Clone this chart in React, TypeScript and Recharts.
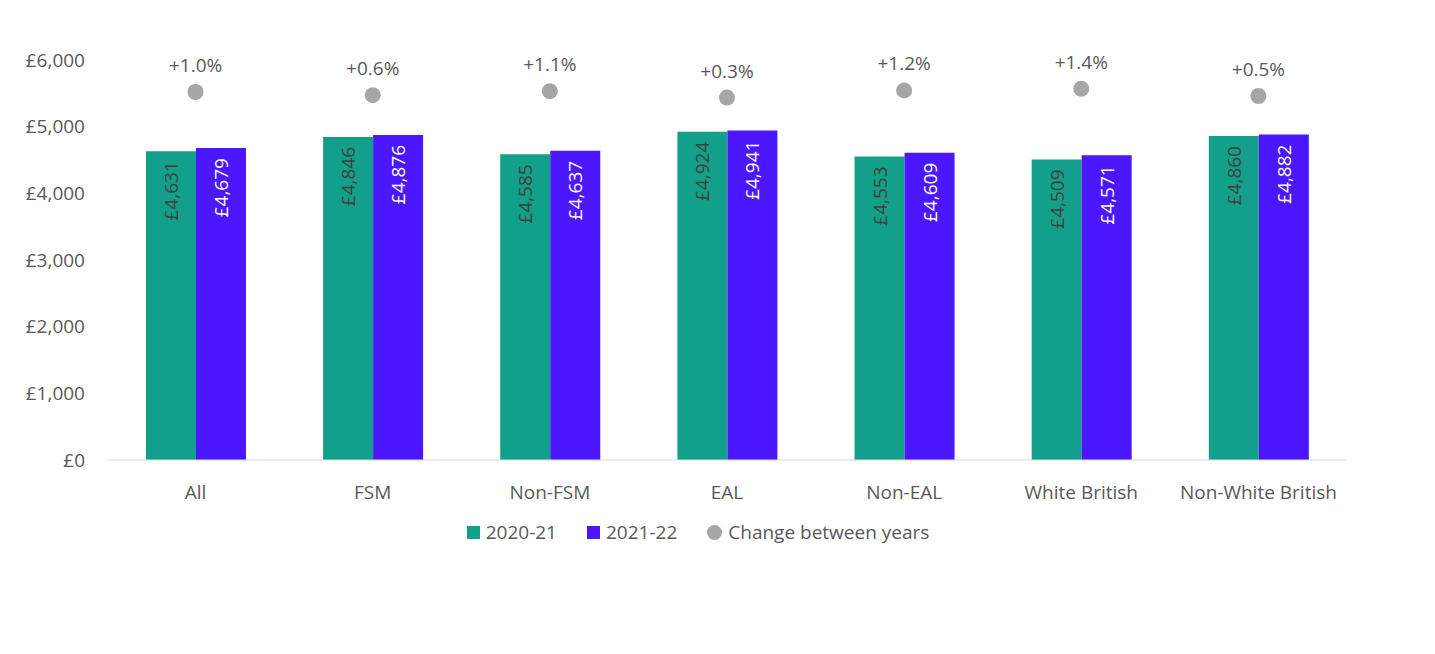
import React from 'react';
import { ComposedChart, Bar, Line, XAxis, YAxis, LabelList } from 'recharts';

const categories = ['All', 'FSM', 'Non-FSM', 'EAL', 'Non-EAL', 'White British', 'Non-White British'];
const spend2021 = [4631, 4846, 4585, 4924, 4553, 4509, 4860];
const spend2122 = [4679, 4876, 4637, 4941, 4609, 4571, 4882];
const changePct = [1.0, 0.6, 1.1, 0.3, 1.2, 1.4, 0.5];
const yTicks = [0, 1000, 2000, 3000, 4000, 5000, 6000];

const data = categories.map((name, i) => ({
  name,
  y2021: spend2021[i],
  y2122: spend2122[i],
  change: changePct[i],
}));

const FONT = '"Open Sans", sans-serif';
const TEXT = '#595959';
const GREEN = '#12A08B';
const PURPLE = '#4A17FF';
const GREY = '#A6A6A6';
const FS = 19;

const money = (v: number) => `£${v.toLocaleString('en-GB')}`;

const barLabel = (color: string) => (props: any) => {
  const { x, y, width, value } = props;
  const cx = x + width / 2;
  const ty = y + 10;
  return (
    <text
      x={cx}
      y={ty}
      transform={`rotate(-90 ${cx} ${ty})`}
      textAnchor="end"
      dominantBaseline="central"
      fill={color}
      fontSize={FS}
      fontFamily={FONT}
    >
      {money(value)}
    </text>
  );
};

const legendItems = [
  { label: '2020-21', color: GREEN, shape: 'square' },
  { label: '2021-22', color: PURPLE, shape: 'square' },
  { label: 'Change between years', color: GREY, shape: 'circle' },
];

const ChartLegend = () => (
  <div style={{ display: 'flex', justifyContent: 'center', gap: 30, fontFamily: FONT, fontSize: FS, color: TEXT }}>
    {legendItems.map((it) => (
      <div key={it.label} style={{ display: 'flex', alignItems: 'center', gap: 6 }}>
        <span
          style={{
            display: 'inline-block',
            width: it.shape === 'circle' ? 15 : 13,
            height: it.shape === 'circle' ? 15 : 13,
            borderRadius: it.shape === 'circle' ? '50%' : 0,
            background: it.color,
          }}
        />
        <span>{it.label}</span>
      </div>
    ))}
  </div>
);

export default function App() {
  return (
    <div style={{ position: 'relative', width: 1420, height: 600, fontFamily: FONT }}>
      <ComposedChart
        width={1420}
        height={600}
        data={data}
        margin={{ top: 52, right: 81, bottom: 108, left: 9 }}
        barGap={0}
        barCategoryGap="22%"
      >
        <XAxis
          dataKey="name"
          tickLine={false}
          axisLine={{ stroke: '#D9D9D9' }}
          tick={{ fill: TEXT, fontSize: FS, fontFamily: FONT }}
          tickMargin={20}
          interval={0}
          height={40}
        />
        <YAxis
          yAxisId="left"
          domain={[0, 6000]}
          ticks={yTicks}
          tickFormatter={money}
          axisLine={false}
          tickLine={false}
          tickSize={0}
          tickMargin={22}
          width={90}
          tick={{ fill: TEXT, fontSize: FS, fontFamily: FONT }}
        />
        <YAxis yAxisId="right" orientation="right" domain={[-45, 5]} hide />
        <Bar yAxisId="left" dataKey="y2021" fill={GREEN} isAnimationActive={false}>
          <LabelList dataKey="y2021" content={barLabel('#3F3F3F')} />
        </Bar>
        <Bar yAxisId="left" dataKey="y2122" fill={PURPLE} isAnimationActive={false}>
          <LabelList dataKey="y2122" content={barLabel('#FFFFFF')} />
        </Bar>
        <Line
          yAxisId="right"
          dataKey="change"
          stroke="none"
          dot={{ r: 8, fill: GREY, stroke: 'none' }}
          activeDot={false}
          isAnimationActive={false}
        >
          <LabelList
            dataKey="change"
            position="top"
            offset={20}
            formatter={(v: any) => `+${Number(v).toFixed(1)}%`}
            style={{ fill: TEXT, fontSize: FS, fontFamily: FONT }}
          />
        </Line>
      </ComposedChart>
      <div style={{ position: 'absolute', left: 0, width: 1380, top: 511 }}>
        <ChartLegend />
      </div>
    </div>
  );
}
